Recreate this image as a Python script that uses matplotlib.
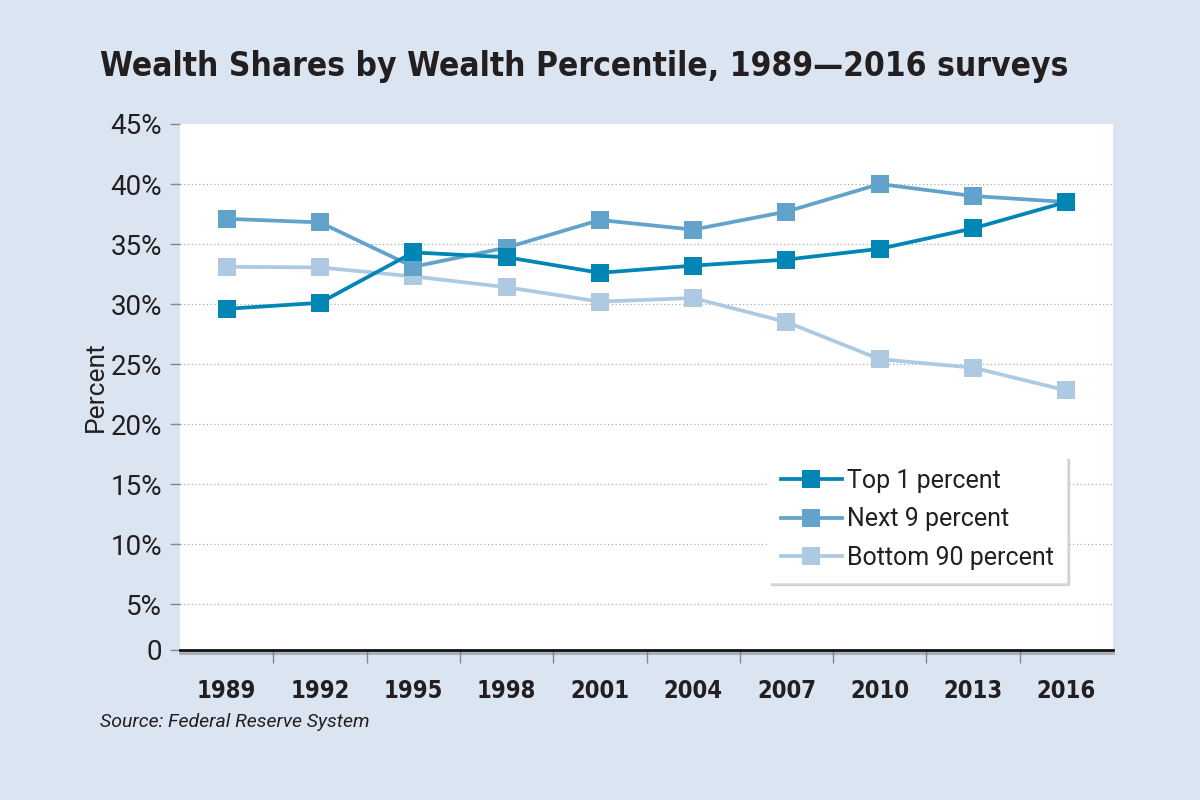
import matplotlib
matplotlib.use("Agg")
import matplotlib.pyplot as plt
import matplotlib.patheffects as pe
from matplotlib.ticker import FixedLocator

years = ["1989", "1992", "1995", "1998", "2001", "2004", "2007", "2010", "2013", "2016"]
top1 = [29.6, 30.1, 34.3, 33.9, 32.6, 33.2, 33.7, 34.6, 36.3, 38.5]
next9 = [37.1, 36.8, 33.1, 34.7, 37.0, 36.2, 37.7, 40.0, 39.0, 38.5]
bottom90 = [33.1, 33.05, 32.3, 31.4, 30.2, 30.5, 28.5, 25.4, 24.7, 22.8]
series_names = ["Top 1 percent", "Next 9 percent", "Bottom 90 percent"]
colors = ["#0085B5", "#62A3CB", "#AECAE3"]
ytick_vals = [5, 10, 15, 20, 25, 30, 35, 40, 45]
ytick_labels = ["5%", "10%", "15%", "20%", "25%", "30%", "35%", "40%", "45%"]

BG = "#DAE5F1"
TXT = "#231F20"
COND = ["DejaVu Sans", "Roboto"]

fig = plt.figure(figsize=(12, 8), dpi=100, facecolor=BG)
ax = fig.add_axes([0.15, 0.1875, 0.7775, 0.6575])
ax.set_facecolor("white")

x = list(range(len(years)))
order = [(bottom90, series_names[2], colors[2], 2),
         (next9, series_names[1], colors[1], 3),
         (top1, series_names[0], colors[0], 4)]
handles = {}
for vals, name, c, z in order:
    h, = ax.plot(x, vals, color=c, lw=2.7, marker="s", markersize=12.5,
                 markeredgewidth=0, label=name, zorder=z)
    handles[name] = h

ybot = 1.17
ax.set_xlim(-0.5, len(years) - 0.5)
ax.set_ylim(ybot, 45)

ax.set_yticks([ybot] + ytick_vals)
ax.set_yticklabels(["0"] + ytick_labels)
for v in ytick_vals[:-1]:
    ax.axhline(v, color="#AAAAAA", lw=0.9, ls=(0, (1, 2)), zorder=1)

ax.set_xticks(x)
ax.set_xticklabels(years)
ax.xaxis.set_minor_locator(FixedLocator([i + 0.5 for i in range(len(years) - 1)]))
ax.tick_params(axis="x", which="major", length=0, pad=21)
ax.tick_params(axis="x", which="minor", length=9, width=1, color="#888888", direction="out")
ax.tick_params(axis="y", length=7, width=1, color="#888888", pad=6)

for lab in ax.get_xticklabels():
    lab.set_fontfamily(COND)
    lab.set_fontstretch("condensed")
    lab.set_fontweight("bold")
    lab.set_fontsize(17)
    lab.set_color(TXT)
for lab in ax.get_yticklabels():
    lab.set_fontfamily(["Roboto", "DejaVu Sans"])
    lab.set_fontsize(20)
    lab.set_color(TXT)

for s in ["left", "right", "top"]:
    ax.spines[s].set_visible(False)
ax.spines["bottom"].set_color("#111111")
ax.spines["bottom"].set_linewidth(2)
ax.spines["bottom"].set_path_effects([pe.SimpleLineShadow(offset=(0, -2), shadow_color="#777777", alpha=0.5), pe.Normal()])

ax.set_ylabel("Percent", fontsize=19, color=TXT, family=["Roboto", "DejaVu Sans"])
ax.yaxis.set_label_coords(-0.077, 0.5)

leg = ax.legend([handles[n] for n in series_names], series_names,
                loc="upper left", bbox_to_anchor=(0.617, 0.392),
                frameon=True, fancybox=False,
                shadow={"color": "#999999", "alpha": 0.35},
                framealpha=1, edgecolor="white", handlelength=2.45, handletextpad=0.2,
                labelspacing=0.58, borderpad=0.5, borderaxespad=0.5,
                prop={"family": ["Roboto", "DejaVu Sans"], "size": 18})
for t in leg.get_texts():
    t.set_color(TXT)
leg.get_frame().set_width(leg.get_frame().get_width())

fig.text(0.083, 0.917, "Wealth Shares by Wealth Percentile, 1989\u20142016 surveys",
         fontsize=24, fontweight="heavy", fontstretch="condensed", family=COND,
         color=TXT, va="center", ha="left")
fig.text(0.083, 0.097, "Source: Federal Reserve System", fontsize=14, style="italic",
         family=["Roboto", "DejaVu Sans"], color=TXT, va="center", ha="left")

fig.savefig("out.png", dpi=100, facecolor=BG)
